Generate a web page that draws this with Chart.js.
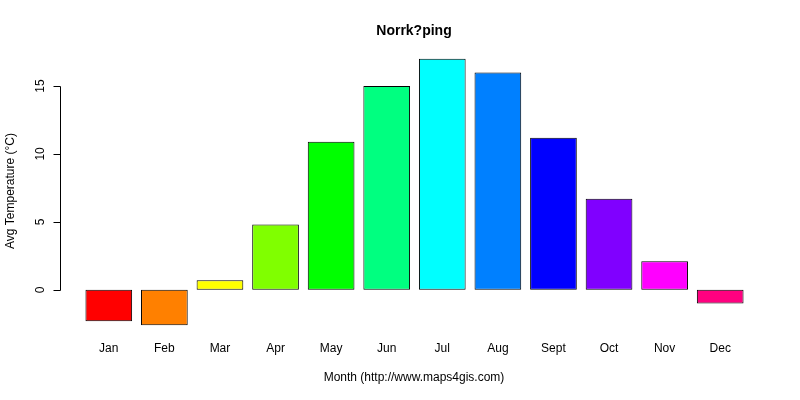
<!DOCTYPE html>
<html>
<head>
<meta charset="utf-8">
<script src="https://cdn.jsdelivr.net/npm/chart.js@4"></script>
<style>
body { margin: 0; background: #fff; }
#wrap { width: 800px; height: 400px; }
</style>
</head>
<body>
<div id="wrap"><canvas id="chart"></canvas></div>
<script>
let months = ["Jan", "Feb", "Mar", "Apr", "May", "Jun", "Jul", "Aug", "Sept", "Oct", "Nov", "Dec"];
let temps = [-2.3, -2.6, 0.7, 4.8, 10.9, 15.0, 17.0, 16.0, 11.2, 6.7, 2.1, -1.0];
let colors = ["#FF0000", "#FF8000", "#FFFF00", "#80FF00", "#00FF00", "#00FF80",
              "#00FFFF", "#0080FF", "#0000FF", "#8000FF", "#FF00FF", "#FF0080"];
let yTicks = [0, 5, 10, 15];

// R-style axes and titles
let rAxes = {
    id: "rAxes",
    afterDraw(chart) {
        let c = chart.ctx;
        let y = chart.scales.y;
        let x = chart.scales.x;
        c.save();
        c.strokeStyle = "#000";
        c.fillStyle = "#000";
        c.lineWidth = 1;
        let ax = 60.5;
        c.beginPath();
        c.moveTo(ax, Math.round(y.getPixelForValue(yTicks[0])) + 0.5);
        c.lineTo(ax, Math.round(y.getPixelForValue(yTicks[yTicks.length - 1])) + 0.5);
        yTicks.forEach(t => {
            let py = Math.round(y.getPixelForValue(t)) + 0.5;
            c.moveTo(ax, py);
            c.lineTo(ax - 7, py);
        });
        c.stroke();
        c.font = "12px 'Liberation Sans', Arial, sans-serif";
        c.textAlign = "center";
        c.textBaseline = "middle";
        yTicks.forEach(t => {
            c.save();
            c.translate(41, y.getPixelForValue(t));
            c.rotate(-Math.PI / 2);
            c.fillText(String(t), 0, 0);
            c.restore();
        });
        months.forEach((m, i) => {
            c.fillText(m, x.getPixelForValue(i), 349);
        });
        c.fillText("Month (http://www.maps4gis.com)", 414, 378);
        c.save();
        c.translate(11, 191);
        c.rotate(-Math.PI / 2);
        c.fillText("Avg Temperature (°C)", 0, 0);
        c.restore();
        c.font = "bold 14px 'Liberation Sans', Arial, sans-serif";
        c.fillText("Norrk?ping", 414, 31);
        c.restore();
    }
};

new Chart(document.getElementById("chart"), {
    type: "bar",
    data: {
        labels: months,
        datasets: [{
            data: temps,
            backgroundColor: colors,
            borderColor: "#000",
            borderWidth: 1,
            borderSkipped: false,
            barPercentage: 0.84,
            categoryPercentage: 1
        }]
    },
    options: {
        responsive: true,
        maintainAspectRatio: false,
        animation: false,
        layout: { padding: { left: 81, right: 52, top: 52, bottom: 68 } },
        plugins: { legend: { display: false }, tooltip: { enabled: false } },
        scales: {
            x: { display: false },
            y: { display: false, min: -3.1, max: 17.5 }
        }
    },
    plugins: [rAxes]
});
</script>
</body>
</html>
